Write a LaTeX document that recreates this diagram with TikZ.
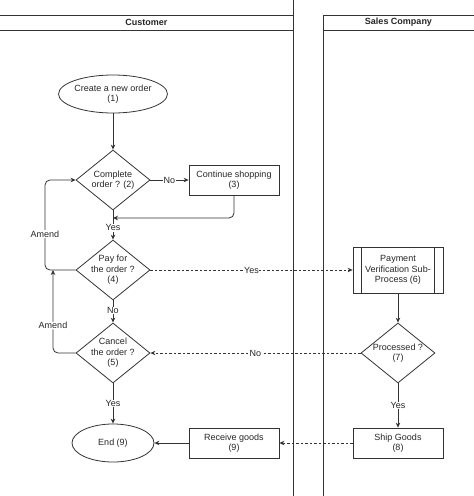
\documentclass[tikz,border=0pt]{standalone}
\usepackage{fontspec}
\setmainfont{Liberation Sans}
\usetikzlibrary{shapes.geometric,arrows.meta}
\begin{document}
\begin{tikzpicture}[x=1pt,y=-1pt,
  every node/.style={font=\fontsize{9}{10.5}\selectfont, text=black!85, align=center, inner sep=1pt},
  ln/.style={draw=black!80, line width=0.8pt},
  arr/.style={ln, -{Stealth[length=5pt,width=4.5pt]}},
  dsh/.style={arr, dash pattern=on 2.5pt off 2pt},
  ell/.style={ln, ellipse, minimum width=82pt, minimum height=38pt, inner sep=0pt},
  dia/.style={ln, diamond, minimum width=74pt, minimum height=60pt, aspect=1.23, inner sep=-4.5pt},
  box/.style={ln, rectangle, minimum width=90pt, minimum height=30pt},
  lbl/.style={fill=white, inner sep=0.5pt},
  hdr/.style={font=\fontsize{9}{10.5}\selectfont\bfseries}]
\useasboundingbox (0,0) rectangle (474,496);
% lanes
\draw[ln] (0,15) -- (293,15);
\draw[ln] (0,30) -- (293,30);
\draw[ln] (293,0) -- (293,496);
\draw[ln] (474,15) -- (323,15) -- (323,496);
\draw[ln] (323,30) -- (474,30);
\node[hdr] (hc) at (146.5,22.5) {Customer};
\node[hdr] (hs) at (398.5,22.5) {Sales Company};
% nodes
\node[ell] (n1) at (113,94) {Create a new order\\(1)};
\node[dia] (n2) at (113,180) {Complete\\order ? (2)};
\node[box] (n3) at (234,180) {Continue shopping\\(3)};
\node[dia] (n4) at (113,270) {Pay for\\the order ?\\(4)};
\node[dia] (n5) at (113,353) {Cancel\\the order ?\\(5)};
\node[box, minimum height=46pt] (n6) at (398,270) {Payment\\Verification Sub-\\Process (6)};
\draw[ln] ([xshift=9pt]n6.north west) -- ([xshift=9pt]n6.south west);
\draw[ln] ([xshift=-9pt]n6.north east) -- ([xshift=-9pt]n6.south east);
\node[dia] (n7) at (398,353) {Processed ?\\(7)};
\node[box] (n8) at (398,443) {Ship Goods\\(8)};
\node[box] (n9) at (234,443) {Receive goods\\(9)};
\node[ell] (n10) at (113,443) {End (9)};
\coordinate (c1) at (113,218);
\coordinate (c2) at (53,270);
% connectors
\draw[arr] (n1) -- (n2);
\draw[arr] (n2) -- node[lbl] {No} (n3);
\draw[arr, rounded corners=5pt] (n3.south) |- (c1);
\draw[arr] (n2) -- node[lbl, pos=0.6] {Yes} (n4);
\draw[arr, rounded corners=5pt] (n4.west) -- (45,270) -- node[lbl, pos=0.4] {Amend} (45,180) -- (n2.west);
\draw[arr] (n4) -- node[lbl, pos=0.45] {No} (n5);
\draw[arr, rounded corners=5pt] (n5.west) -- (53,353) -- node[lbl, pos=0.33] {Amend} (c2);
\draw[dsh] (n4.east) -- node[lbl] {Yes} (n6.west);
\draw[arr] (n6) -- (n7);
\draw[dsh] (n7.west) -- node[lbl] {No} (n5.east);
\draw[arr] (n7) -- node[lbl] {Yes} (n8);
\draw[dsh] (n8) -- (n9);
\draw[arr] (n9) -- (n10);
\draw[arr] (n5) -- node[lbl] {Yes} (n10);
\end{tikzpicture}
\end{document}
